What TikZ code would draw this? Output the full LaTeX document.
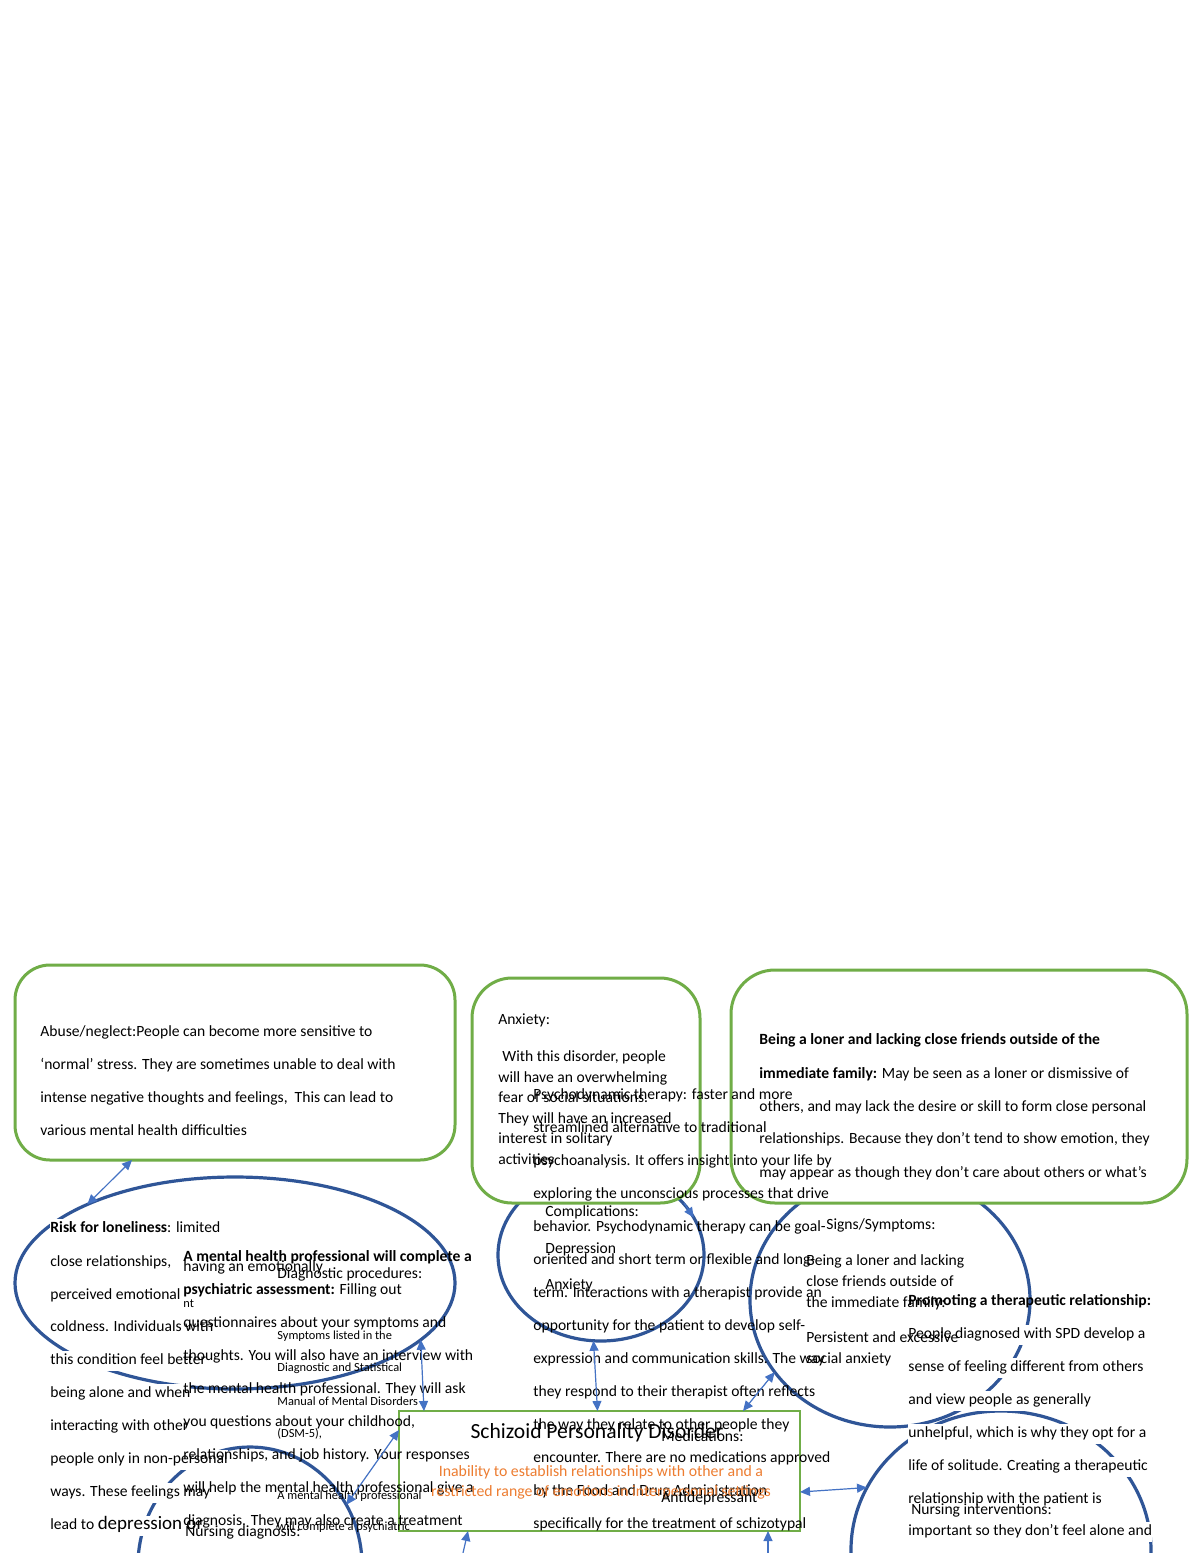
\documentclass[tikz,border=0pt]{standalone}
\usepackage{fontspec}
\setmainfont{Carlito}
\usetikzlibrary{shapes.geometric,arrows.meta}
\definecolor{gr}{HTML}{70AD47}
\definecolor{db}{HTML}{2F5597}
\definecolor{ab}{HTML}{4472C4}
\definecolor{og}{HTML}{ED7D31}
\begin{document}
\begin{tikzpicture}[x=0.5pt,y=-0.5pt,
 t/.style={anchor=west, inner sep=0pt, text height=5.4pt, text depth=1.6pt, font=\fontsize{7.8}{9}\selectfont},
 tw/.style={t, fill=white, inner ysep=1.5pt},
 sm/.style={t, font=\fontsize{6.2}{7}\selectfont, text height=4.3pt, text depth=1.3pt},
 gbox/.style={draw=gr, fill=white, line width=1.5pt, rounded corners=#1, inner sep=0pt, outer sep=0pt},
 ell/.style={draw=db, line width=1.6pt, ellipse, inner sep=0pt, outer sep=0pt},
 con/.style={draw=ab, line width=0.6pt, {Triangle[length=5pt,width=4.5pt]}-{Triangle[length=5pt,width=4.5pt]}},
 con1/.style={draw=ab, line width=0.6pt, -{Triangle[length=5pt,width=4.5pt]}},
]
\useasboundingbox[fill=white] (0,0) rectangle (1200,1553);

% ellipses
\node[ell, minimum width=220pt, minimum height=106pt] (risk) at (235,1283) {};
\node[ell, minimum width=103pt, minimum height=86pt] (comp) at (601,1255) {};
\node[ell, minimum width=140pt, minimum height=127pt] (signs) at (890,1300) {};
\node[ell, minimum width=150pt, minimum height=139pt] (nint) at (1001,1550) {};
\node[ell, minimum width=112pt, minimum height=118pt] (ndiag) at (250,1565) {};

% green boxes
\node[gbox=17.5pt, minimum width=220pt, minimum height=97.5pt] (abuse) at (235,1062.5) {};
\node[gbox=20pt, minimum width=114pt, minimum height=112.5pt] (box2) at (586,1090.5) {};
\node[gbox=22pt, minimum width=228pt, minimum height=116.5pt] (box3) at (959,1086.5) {};
\node[draw=gr, line width=1.2pt, minimum width=200.5pt, minimum height=60pt, inner sep=0pt, outer sep=0pt] (core) at (599.5,1471) {};

% box 1 text
\node[t] (ab1) at (40,1033) {Abuse/neglect:People can become more sensitive to};
\node[t] (ab2) at (40,1066) {‘normal’ stress. They are sometimes unable to deal with};
\node[t] (ab3) at (40,1099) {intense negative thoughts and feelings,\ \ This can lead to};
\node[t] (ab4) at (40,1132) {various mental health difficulties};

% box 2 text
\node[t] (bx1) at (498,1021) {Anxiety:};
\node[t] (bx2) at (502,1058) {With this disorder, people};
\node[t] (bx3) at (498,1079) {will have an overwhelming};
\node[t] (bx4) at (498,1099) {fear of social situations.};
\node[t] (bx5) at (498,1120) {They will have an increased};
\node[t] (bx6) at (498,1140) {interest in solitary};
\node[t] (bx7) at (498,1161) {activities};

% box 3 text
\node[t] (bl1) at (759,1041) {\bfseries Being a loner and lacking close friends outside of the};
\node[t] (bl2) at (759,1075) {\textbf{immediate family:} May be seen as a loner or dismissive of};
\node[t] (bl3) at (759,1108) {others, and may lack the desire or skill to form close personal};
\node[t] (bl4) at (759,1140) {relationships. Because they don't tend to show emotion, they};
\node[t] (bl5) at (759,1174) {may appear as though they don't care about others or what's};

% risk text (white backed)
\node[t] (hid1) at (183,1268) {having an emotionally};
\node[sm] (hid2) at (183,1304) {nt};
\node[tw] (rk1) at (50,1229) {\textbf{Risk for loneliness}: limited};
\node[tw] (rk2) at (50,1263) {close relationships,};
\node[tw] (rk3) at (50,1296) {perceived emotional};
\node[tw] (rk4) at (50,1328) {coldness. Individuals with};
\node[tw] (rk5) at (50,1361) {this condition feel better};
\node[tw] (rk6) at (50,1394) {being alone and when};
\node[tw] (rk7) at (50,1427) {interacting with other};
\node[tw] (rk8) at (50,1460) {people only in non-personal};
\node[tw] (rk9) at (50,1493) {ways. These feelings may};
\node[tw] (rk10) at (50,1526) {lead to {\fontsize{9.5}{10}\selectfont depression or}};

% nursing interventions text (white backed)
\node[t] (ni1) at (908,1302) {\bfseries Promoting a therapeutic relationship:};
\node[tw] (ni2) at (908,1335) {People diagnosed with SPD develop a};
\node[tw] (ni3) at (908,1368) {sense of feeling different from others};
\node[tw] (ni4) at (908,1401) {and view people as generally};
\node[tw] (ni5) at (908,1434) {unhelpful, which is why they opt for a};
\node[tw] (ni6) at (908,1467) {life of solitude. Creating a therapeutic};
\node[tw] (ni7) at (908,1500) {relationship with the patient is};
\node[tw] (ni8) at (908,1532) {important so they don't feel alone and};
\node[t] (nih) at (911,1511) {Nursing interventions:};

% psychodynamic text
\node[t] (ps1) at (533,1096) {Psychodynamic therapy: faster and more};
\node[t] (ps2) at (533,1129) {streamlined alternative to traditional};
\node[t] (ps3) at (533,1162) {psychoanalysis. It offers insight into your life by};
\node[t] (ps4) at (533,1195) {exploring the unconscious processes that drive};
\node[t] (ps5) at (533,1228) {behavior. Psychodynamic therapy can be goal-};
\node[t] (ps6) at (533,1261) {oriented and short term or flexible and long-};
\node[t] (ps7) at (533,1294) {term. Interactions with a therapist provide an};
\node[t] (ps8) at (533,1327) {opportunity for the patient to develop self-};
\node[t] (ps9) at (533,1360) {expression and communication skills. The way};
\node[t] (ps10) at (533,1393) {they respond to their therapist often reflects};
\node[t] (ps11) at (533,1426) {the way they relate to other people they};
\node[t] (ps12) at (533,1459) {encounter. There are no medications approved};
\node[t] (ps13) at (533,1492) {by the Food and Drug Administration};
\node[t] (ps14) at (533,1525) {specifically for the treatment of schizotypal};

% complications
\node[t] (cp1) at (545,1213) {Complications:};
\node[t] (cp2) at (545,1250) {Depression};
\node[t] (cp3) at (545,1286) {Anxiety};

% signs
\node[t] (sg1) at (826,1226) {Signs/Symptoms:};
\node[t] (sg2) at (806,1262) {Being a loner and lacking};
\node[t] (sg3) at (806,1283) {close friends outside of};
\node[t] (sg4) at (806,1304) {the immediate family:};
\node[t] (sg5) at (806,1339) {Persistent and excessive};
\node[t] (sg6) at (806,1360) {social anxiety};

% diagnostic text
\node[t] (dg1) at (183,1258) {\bfseries A mental health professional will complete a};
\node[t] (dg2) at (183,1291) {\textbf{psychiatric assessment:} Filling out};
\node[t] (dg3) at (183,1324) {questionnaires about your symptoms and};
\node[t] (dg4) at (183,1357) {thoughts. You will also have an interview with};
\node[t] (dg5) at (183,1390) {the mental health professional. They will ask};
\node[t] (dg6) at (183,1423) {you questions about your childhood,};
\node[t] (dg7) at (183,1456) {relationships, and job history. Your responses};
\node[t] (dg8) at (183,1489) {will help the mental health professional give a};
\node[t] (dg9) at (183,1522) {diagnosis. They may also create a treatment};
\node[t] (dp1) at (277,1275) {Diagnostic procedures:};
\node[sm] (dp2) at (277,1336) {Symptoms listed in the};
\node[sm] (dp3) at (277,1368) {Diagnostic and Statistical};
\node[sm] (dp4) at (277,1402) {Manual of Mental Disorders};
\node[sm] (dp5) at (277,1434) {(DSM-5),};
\node[sm] (dp6) at (277,1496) {A mental health professional};
\node[sm] (dp7) at (277,1527) {will complete a psychiatric};
\node[t] (nd) at (185,1533) {Nursing diagnosis:};

% core text
\node[inner sep=0pt, font=\fontsize{10.8}{12}\selectfont] (title) at (597,1433) {Schizoid Personality Disorder};
\node[inner sep=0pt, text=og, font=\fontsize{7.9}{9}\selectfont] (or1) at (601,1472) {Inability to establish relationships with other and a};
\node[inner sep=0pt, text=og, font=\fontsize{7.9}{9}\selectfont] (or2) at (601,1492) {restricted range of emotions in interpersonal settings};
\node[t] (med1) at (661,1438) {Medications:};
\node[t] (med2) at (661,1499) {Antidepressant};

% connectors
\draw[con] ([xshift=58.5pt]abuse.south west) -- (risk.152);
\draw[con] (risk.-17) -- ([xshift=12.5pt]core.north west);
\draw[con] ([yshift=-9.5pt]core.north west) -- (ndiag.32);
\draw[con] (comp.265) -- ([xshift=-1pt]core.north);
\draw[con1] ([xshift=106pt]box2.south west) -- (comp.22);
\draw[con] (signs.212) -- ([xshift=172pt]core.north west);
\draw[con] ([yshift=-10.5pt]core.east) -- (nint.155);
\coordinate (f1) at (463,1553);
\coordinate (f2) at (768,1553);
\draw[con1] (f1) -- ([xshift=34.5pt]core.south west);
\draw[con1] (f2) -- ([xshift=184.5pt]core.south west);
\end{tikzpicture}
\end{document}
